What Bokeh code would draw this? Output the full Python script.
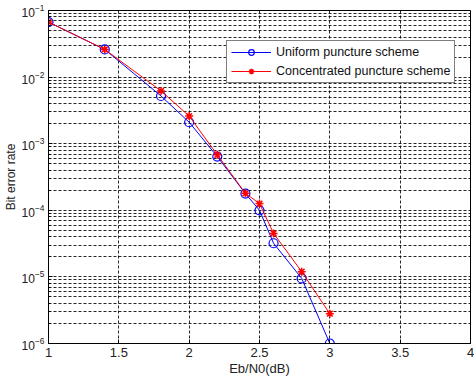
import math
from bokeh.plotting import figure
from bokeh.models import (Range1d, FixedTicker, CustomJSTickFormatter, Legend, LegendItem)
from bokeh.embed import file_html
from bokeh.resources import INLINE

# ---- data ----
ebn0 = [1.0, 1.4, 1.8, 2.0, 2.2, 2.4, 2.5, 2.6, 2.8, 3.0]
ber_uniform = [0.067, 0.026, 0.0052, 0.0021, 6.4e-4, 1.78e-4, 1.0e-4, 3.2e-5, 9.5e-6, 1.0e-6]
ber_concentrated = [0.067, 0.026, 0.0062, 0.0026, 6.8e-4, 1.8e-4, 1.26e-4, 4.5e-5, 1.2e-5, 2.8e-6]
x_ticks = [1.0, 1.5, 2.0, 2.5, 3.0, 3.5, 4.0]
y_decades = [-6, -5, -4, -3, -2, -1]
label_uniform = "Uniform puncture scheme"
label_concentrated = "Concentrated puncture scheme"
y_title = "Bit error rate"
x_title = "Eb/N0(dB)"

FONT = "Liberation Sans"

p = figure(width=474, height=381, x_axis_type="linear", y_axis_type="log",
           x_range=Range1d(1, 4), y_range=Range1d(1e-6, 1e-1),
           output_backend="svg", toolbar_location=None,
           min_border_left=47, min_border_right=4, min_border_top=10, min_border_bottom=38)

p.outline_line_color = "black"
p.outline_line_width = 1
p.background_fill_color = "white"
p.border_fill_color = "white"

# ticks
y_major = [10.0 ** d for d in y_decades]
y_minor = [k * 10.0 ** d for d in y_decades[:-1] for k in range(2, 10)]
p.xaxis.ticker = FixedTicker(ticks=x_ticks)
p.yaxis.ticker = FixedTicker(ticks=y_major, minor_ticks=y_minor)
p.xaxis.formatter = CustomJSTickFormatter(code="return String(Math.round(tick*10)/10);")

for ax in (p.xaxis[0], p.yaxis[0]):
    ax.axis_line_color = "black"
    ax.major_tick_in = 4
    ax.major_tick_out = 0
    ax.minor_tick_in = 2
    ax.minor_tick_out = 0
    ax.major_tick_line_color = "black"
    ax.minor_tick_line_color = "black"
    ax.major_label_text_font = FONT
    ax.major_label_text_color = "#222222"
    ax.axis_label_text_font = FONT
    ax.axis_label_text_font_style = "normal"
    ax.axis_label_text_color = "#222222"
p.xaxis.major_label_text_font_size = "13px"
p.yaxis.major_label_text_font_size = "12px"
p.xaxis.major_label_standoff = 4
p.yaxis.major_label_standoff = 4

p.yaxis.axis_label = y_title
p.yaxis.axis_label_text_font_size = "12px"
p.yaxis.axis_label_standoff = 1

p.xaxis.axis_label = x_title
p.xaxis.axis_label_text_font_size = "13px"
p.xaxis.axis_label_standoff = 1

# grid
for g in (p.xgrid[0], p.ygrid[0]):
    g.grid_line_color = "black"
    g.grid_line_dash = "3 2"
    g.grid_line_alpha = 0.85
    g.grid_line_width = 1
p.ygrid.minor_grid_line_color = "black"
p.ygrid.minor_grid_line_dash = "3 2"
p.ygrid.minor_grid_line_alpha = 0.85

# series
l1 = p.line(ebn0, ber_uniform, line_color="#0000ff", line_width=1)
s1 = p.scatter(ebn0, ber_uniform, marker="circle", size=9, line_color="#0000ff",
               fill_color=None, line_width=1.2)
l2 = p.line(ebn0, ber_concentrated, line_color="#ff0000", line_width=1)
s2 = p.scatter(ebn0, ber_concentrated, marker="asterisk", size=8, line_color="#ff0000",
               line_width=1.5)

legend = Legend(items=[LegendItem(label=label_uniform, renderers=[l1, s1]),
                       LegendItem(label=label_concentrated, renderers=[l2, s2])],
                location=(178, 260))
legend.border_line_color = "black"
legend.border_line_width = 1
legend.background_fill_color = "white"
legend.background_fill_alpha = 1
legend.padding = 4
legend.spacing = 5
legend.margin = 0
legend.glyph_width = 40
legend.glyph_height = 14
legend.label_height = 14
legend.label_standoff = 5
legend.label_text_font = FONT
legend.label_text_font_size = "12.5px"
legend.label_text_color = "#111111"
p.add_layout(legend, "center")

open("out.html", "w").write(file_html(p, INLINE))
